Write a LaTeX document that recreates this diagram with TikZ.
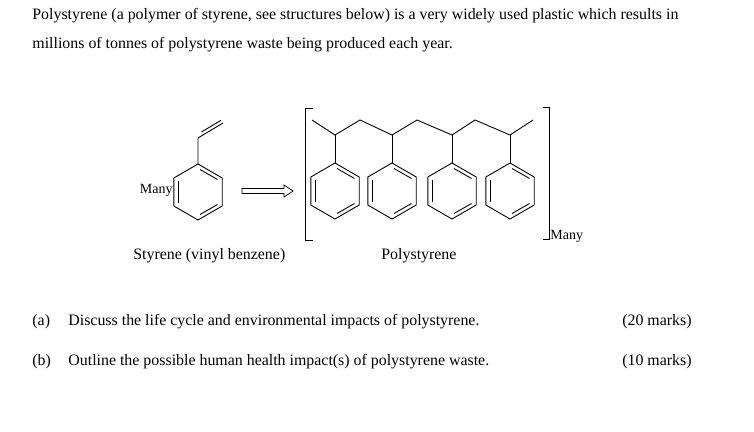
\documentclass[tikz,border=0pt]{standalone}
\usepackage{fontspec}
\setmainfont{Liberation Serif}
\begin{document}
\begin{tikzpicture}[x=1pt,y=-1pt,line width=0.8pt,
  txt/.style={inner sep=0pt,font=\fontsize{15.9}{18}\selectfont},
  pic/.style={line width=0.9pt}]
\useasboundingbox (0,0) rectangle (754,431);
\newcommand{\benz}[2]{%
  \draw[pic] (#1,#2-28) -- (#1+24.2,#2-14) -- (#1+24.2,#2+14) -- (#1,#2+28) -- (#1-24.2,#2+14) -- (#1-24.2,#2-14) -- cycle;
  \draw[pic] (#1-19.5,#2-11) -- (#1-19.5,#2+11);
  \draw[pic] (#1+2,#2-22.5) -- (#1+19.5,#2-12.5);
  \draw[pic] (#1+19.5,#2+12.5) -- (#1+2,#2+22.5);}
\node[txt,anchor=base west] (l1) at (32,19) {Polystyrene (a polymer of styrene, see structures below) is a very widely used plastic which results in};
\node[txt,anchor=base west] (l2) at (32,48) {millions of tonnes of polystyrene waste being produced each year.};
% styrene
\benz{198}{192}
\draw[pic] (198,164) -- (198,138) -- (223,123);
\draw[pic] (201.5,132) -- (221,120.3);
\node[txt,anchor=east,font=\fontsize{14}{16}\selectfont] (m1) at (173,190) {Many};
% arrow
\draw[line width=0.7pt] (242,188.5) -- (284,188.5) -- (284,185) -- (293,191) -- (284,197) -- (284,193.5) -- (242,193.5) -- cycle;
% polymer
\foreach \cx in {335,392,452,510}{\benz{\cx}{191}\draw[pic] (\cx,163) -- (\cx,135);}
\draw[pic] (312,120) -- (335,135) -- (360,120) -- (392,135) -- (417,120) -- (452,135) -- (475,120) -- (510,135) -- (533,120);
\draw[pic] (313,108) -- (305,108) -- (305,240) -- (313,240);
\draw[pic] (543,107) -- (549,107) -- (549,239) -- (543,239);
\node[txt,anchor=west,font=\fontsize{14}{16}\selectfont] (m2) at (550,236) {Many};
\node[txt,anchor=base west] (s) at (133,259) {Styrene (vinyl benzene)};
\node[txt,anchor=base west] (p) at (381,259) {Polystyrene};
\node[txt,anchor=base west] (a) at (32,325) {(a)};
\node[txt,anchor=base west] (at) at (68,325) {Discuss the life cycle and environmental impacts of polystyrene.};
\node[txt,anchor=base east] (am) at (692,325) {(20 marks)};
\node[txt,anchor=base west] (b) at (32,365) {(b)};
\node[txt,anchor=base west] (bt) at (68,365) {Outline the possible human health impact(s) of polystyrene waste.};
\node[txt,anchor=base east] (bm) at (692,365) {(10 marks)};
\end{tikzpicture}
\end{document}
